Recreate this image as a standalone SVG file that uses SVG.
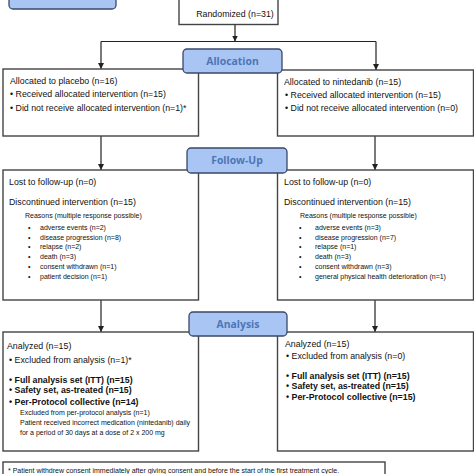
<svg xmlns="http://www.w3.org/2000/svg" width="474" height="474" viewBox="0 0 474 474">
<defs>
<marker id="arr" markerUnits="userSpaceOnUse" markerWidth="6" markerHeight="6" viewBox="0 0 6 6" refX="6" refY="3" orient="auto">
<path d="M0,0 L6,3 L0,6 z" fill="#222"/>
</marker>
<style>
.box{fill:#fff;stroke:#444;stroke-width:1.4}
.lab{fill:#a9c5f3;stroke:#3a4868;stroke-width:1.3}
.labt{font-family:"Open Sans","Liberation Sans",sans-serif;font-weight:700;font-size:10.4px;fill:#4d76b6;text-anchor:middle}
.t{font-family:"Liberation Sans",Arial,sans-serif;font-size:8.8px;fill:#111}
.s{font-family:"Liberation Sans",Arial,sans-serif;font-size:7px;fill:#111}
.x{font-family:"Liberation Sans",Arial,sans-serif;font-size:7px;fill:#111}
.b{font-family:"Liberation Sans",Arial,sans-serif;font-size:8.8px;font-weight:700;fill:#111}
.f{font-family:"Liberation Sans",Arial,sans-serif;font-size:7px;fill:#111}
.c{fill:none;stroke:#222;stroke-width:1.2}
</style>
</defs>
<rect x="0" y="0" width="474" height="474" fill="#fff"/>

<g id="top-label"><rect class="lab" x="9" y="-12" width="107" height="21" rx="4"/></g>

<g id="randomized">
<rect class="box" x="179" y="-2" width="99" height="26.5"/>
<text class="t" x="235" y="17" text-anchor="middle">Randomized (n=31)</text>
</g>

<g id="connectors">
<line class="c" x1="235" y1="24.5" x2="235" y2="41.5" marker-end="url(#arr)"/>
<polyline class="c" points="101,41.5 376,41.5"/>
<line class="c" x1="101" y1="41.5" x2="101" y2="69" marker-end="url(#arr)"/>
<line class="c" x1="376" y1="41.5" x2="376" y2="70" marker-end="url(#arr)"/>
<line class="c" x1="101" y1="136" x2="101" y2="170" marker-end="url(#arr)"/>
<line class="c" x1="375" y1="136" x2="375" y2="170" marker-end="url(#arr)"/>
<line class="c" x1="101" y1="300" x2="101" y2="332" marker-end="url(#arr)"/>
<line class="c" x1="375" y1="300" x2="375" y2="332" marker-end="url(#arr)"/>
</g>

<g id="alloc-placebo">
<rect class="box" x="3" y="69" width="195.5" height="67"/>
<text class="t" x="10" y="84">Allocated to placebo (n=16)</text>
<text class="t" x="10" y="97">• Received allocated intervention (n=15)</text>
<text class="t" x="10" y="111">• Did not receive allocated intervention (n=1)*</text>
</g>

<g id="alloc-nintedanib">
<rect class="box" x="277.5" y="70" width="196" height="66"/>
<text class="t" x="284" y="85">Allocated to nintedanib (n=15)</text>
<text class="t" x="285" y="98">• Received allocated intervention (n=15)</text>
<text class="t" x="285" y="111">• Did not receive allocated intervention (n=0)</text>
</g>

<g id="label-allocation">
<rect class="lab" x="183" y="49" width="99" height="24" rx="4"/>
<text class="labt" x="232.5" y="64.8">Allocation</text>
</g>

<g id="followup-placebo">
<rect class="box" x="3" y="170" width="195.5" height="130"/>
<text class="t" x="9" y="185">Lost to follow-up (n=0)</text>
<text class="t" x="9" y="205">Discontinued intervention (n=15)</text>
<text class="s" x="25" y="218">Reasons (multiple response possible)</text>
<g class="s">
<text x="28" y="230">•</text><text x="40" y="230">adverse events (n=2)</text>
<text x="28" y="239.7">•</text><text x="40" y="239.7">disease progression (n=8)</text>
<text x="28" y="249.4">•</text><text x="40" y="249.4">relapse (n=2)</text>
<text x="28" y="259.1">•</text><text x="40" y="259.1">death (n=3)</text>
<text x="28" y="268.8">•</text><text x="40" y="268.8">consent withdrawn (n=1)</text>
<text x="28" y="278.5">•</text><text x="40" y="278.5">patient decision (n=1)</text>
</g>
</g>

<g id="followup-nintedanib">
<rect class="box" x="277.5" y="170" width="196" height="130"/>
<text class="t" x="284" y="185">Lost to follow-up (n=0)</text>
<text class="t" x="284" y="205">Discontinued intervention (n=15)</text>
<text class="s" x="300" y="218">Reasons (multiple response possible)</text>
<g class="s">
<text x="299" y="230">•</text><text x="315" y="230">adverse events (n=3)</text>
<text x="299" y="239.7">•</text><text x="315" y="239.7">disease progression (n=7)</text>
<text x="299" y="249.4">•</text><text x="315" y="249.4">relapse (n=1)</text>
<text x="299" y="259.1">•</text><text x="315" y="259.1">death (n=3)</text>
<text x="299" y="268.8">•</text><text x="315" y="268.8">consent withdrawn (n=3)</text>
<text x="299" y="278.5">•</text><text x="315" y="278.5">general physical health deterioration (n=1)</text>
</g>
</g>

<g id="label-followup">
<rect class="lab" x="187" y="148" width="100" height="25" rx="4"/>
<text class="labt" x="237" y="164.3">Follow-Up</text>
</g>

<g id="analysis-placebo">
<rect class="box" x="3" y="332" width="195.5" height="119"/>
<text class="t" x="7" y="348.5">Analyzed (n=15)</text>
<text class="t" x="9" y="362.5">• Excluded from analysis (n=1)*</text>
<text class="b" x="9" y="382.5">•  Full analysis set (ITT) (n=15)</text>
<text class="b" x="9" y="393.2">•  Safety set, as-treated (n=15)</text>
<text class="b" x="9" y="404.7">•  Per-Protocol collective (n=14)</text>
<text class="x" x="20" y="414.5">Excluded from per-protocol analysis (n=1)</text>
<text class="x" x="20" y="424.5">Patient received incorrect medication (nintedanib) daily</text>
<text class="x" x="20" y="434.5">for a period of 30 days at a dose of 2 x 200 mg</text>
</g>

<g id="analysis-nintedanib">
<rect class="box" x="277.5" y="332" width="196" height="119"/>
<text class="t" x="285" y="346.5">Analyzed (n=15)</text>
<text class="t" x="286" y="359">• Excluded from analysis (n=0)</text>
<text class="b" x="286" y="378.5">•  Full analysis set (ITT) (n=15)</text>
<text class="b" x="286" y="389">•  Safety set, as-treated (n=15)</text>
<text class="b" x="286" y="399.5">•  Per-Protocol collective (n=15)</text>
</g>

<g id="label-analysis">
<rect class="lab" x="189" y="312" width="98" height="24" rx="4"/>
<text class="labt" x="238" y="327.8">Analysis</text>
</g>

<g id="footnote">
<rect class="box" x="3" y="462" width="382" height="20"/>
<text class="f" x="8" y="472.5">* Patient withdrew consent immediately after giving consent and before the start of the first treatment cycle.</text>
</g>
</svg>
